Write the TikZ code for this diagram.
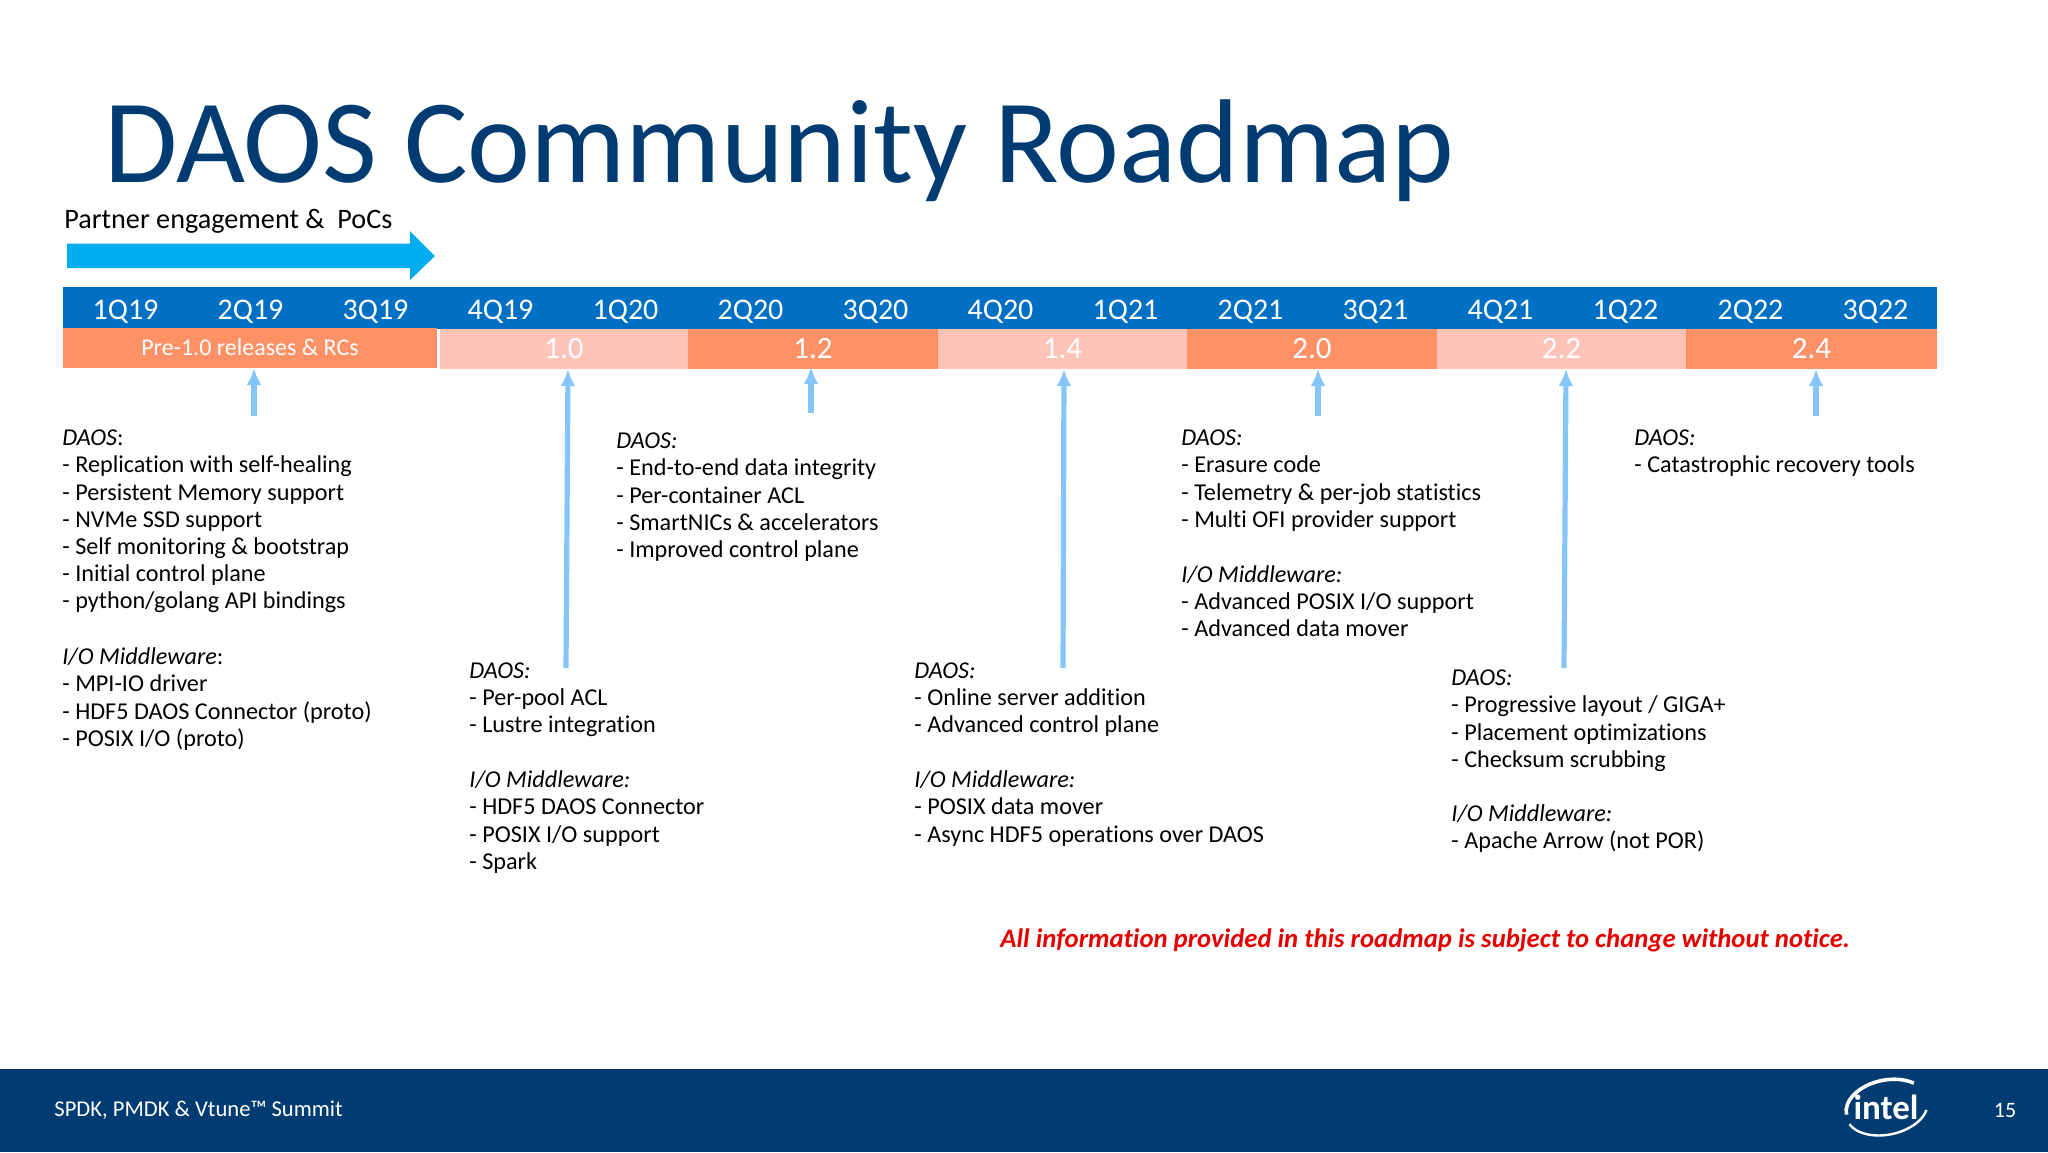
\documentclass[tikz,border=0pt]{standalone}
\usepackage{fontspec}
\setmainfont[Ligatures=NoCommon]{Carlito}
\usetikzlibrary{arrows.meta}
\definecolor{navy}{HTML}{003C71}
\definecolor{barblue}{HTML}{0070C5}
\definecolor{darkrel}{HTML}{FF9166}
\definecolor{lightrel}{HTML}{FFC3B8}
\definecolor{tickblue}{HTML}{85C5FA}
\definecolor{bigblue}{HTML}{00AEEF}
\tikzset{
  quarter/.style={text=white,font=\fontsize{15}{18}\selectfont},
  release/.style={minimum height=20pt,inner sep=0,text=white,font=\fontsize{15.5}{18}\selectfont},
  notes/.style={anchor=north west,inner sep=0,align=left,font=\fontsize{12.1}{13.6}\selectfont},
  tick/.style={draw=tickblue,line width=2.6pt,-{Latex[length=8.5pt,width=7.5pt]}},
}
\begin{document}
\begin{tikzpicture}[x=.5pt,y=-.5pt]
\useasboundingbox (0,0) rectangle (2048,1152);
% Title and partner arrow
\node[anchor=west,inner sep=0,text=navy,font=\fontsize{59.6}{62}\selectfont] (title) at (104,151) {DAOS Community Roadmap};
\node[anchor=west,inner sep=0,font=\fontsize{14.1}{16}\selectfont] (partner) at (64,221) {Partner engagement \&\ \ PoCs};
\fill[bigblue] (67,243.5) -- (410,243.5) -- (410,231) -- (435,256) -- (410,280) -- (410,268) -- (67,268) -- cycle;
% Quarters
\fill[barblue] (63,287) rectangle (1937,329);
\foreach \q [count=\i from 0] in {1Q19,2Q19,3Q19,4Q19,1Q20,2Q20,3Q20,4Q20,1Q21,2Q21,3Q21,4Q21,1Q22,2Q22,3Q22}
  \node[quarter] (q\i) at (125.5+\i*125,312) {\q};
% Releases
\node[release,fill=darkrel,minimum width=187pt] (pre) at (250,347.5) {\fontsize{12}{14}\selectfont Pre-1.0 releases \& RCs};
\node[release,fill=lightrel,minimum width=124pt] (v10) at (564,348.5) {1.0};
\node[release,fill=darkrel,minimum width=125pt] (v12) at (813,348.5) {1.2};
\node[release,fill=lightrel,minimum width=124.5pt] (v14) at (1062.5,348.5) {1.4};
\node[release,fill=darkrel,minimum width=125pt] (v20) at (1312,348.5) {2.0};
\node[release,fill=lightrel,minimum width=124.5pt] (v22) at (1561.5,348.5) {2.2};
\node[release,fill=darkrel,minimum width=125.5pt] (v24) at (1811.5,348.5) {2.4};
% Arrows up to the releases
\coordinate (apre) at (254,416);
\coordinate (a10) at (566,668);
\coordinate (a12) at (811,413);
\coordinate (a14) at (1063,668);
\coordinate (a20) at (1318,416);
\coordinate (a22) at (1564,668);
\coordinate (a24) at (1816,416);
\draw[tick] (apre) -- (254,368);
\draw[tick] (a10) -- (568,369);
\draw[tick] (a12) -- (811,367);
\draw[tick] (a14) -- (1064,369);
\draw[tick] (a20) -- (1318,369);
\draw[tick] (a22) -- (1566,369);
\draw[tick] (a24) -- (1816,369);
% Feature lists
\node[notes] (daospre) at (62,429.5) {\textit{DAOS}:\\- Replication with self-healing\\- Persistent Memory support\\- NVMe SSD support\\- Self monitoring \& bootstrap\\- Initial control plane\\- python/golang API bindings};
\node[notes] (iopre) at (62,647.5) {\textit{I/O Middleware}:\\- MPI-IO driver\\- HDF5 DAOS Connector (proto)\\- POSIX I/O (proto)};
\node[notes] (daos10) at (469,662) {\textit{DAOS:}\\- Per-pool ACL\\- Lustre integration};
\node[notes] (io10) at (469,770.5) {\textit{I/O Middleware:}\\- HDF5 DAOS Connector\\- POSIX I/O support\\- Spark};
\node[notes] (daos12) at (616,432.5) {\textit{DAOS:}\\- End-to-end data integrity\\- Per-container ACL\\- SmartNICs \& accelerators\\- Improved control plane};
\node[notes] (daos14) at (914,662) {\textit{DAOS:}\\- Online server addition\\- Advanced control plane};
\node[notes] (io14) at (914,770.5) {\textit{I/O Middleware:}\\- POSIX data mover\\- Async HDF5 operations over DAOS};
\node[notes] (daos20) at (1181,429.5) {\textit{DAOS:}\\- Erasure code\\- Telemetry \& per-job statistics\\- Multi OFI provider support};
\node[notes] (io20) at (1181,565) {\textit{I/O Middleware:}\\- Advanced POSIX I/O support\\- Advanced data mover};
\node[notes] (daos22) at (1451,669.5) {\textit{DAOS:}\\- Progressive layout / GIGA+\\- Placement optimizations\\- Checksum scrubbing};
\node[notes] (io22) at (1451,804.5) {\textit{I/O Middleware:}\\- Apache Arrow (not POR)};
\node[notes] (daos24) at (1634,429.5) {\textit{DAOS:}\\- Catastrophic recovery tools};
\node[anchor=west,inner sep=0,text=red!90!black,font=\fontsize{13.35}{15}\selectfont\bfseries\itshape] (notice) at (1000,940) {All information provided in this roadmap is subject to change without notice.};
% Footer
\fill[navy] (0,1069) rectangle (2048,1152);
\node[anchor=west,inner sep=0,text=white,font=\fontsize{11.3}{13}\selectfont] (summit) at (54,1110) {SPDK, PMDK \& Vtune™ Summit};
\node[inner sep=0,text=white,font=\fontsize{11}{13}\selectfont] (page) at (2005,1110) {15};
\node[inner sep=0,text=white,font=\fontsize{17.5}{18}\selectfont\bfseries] (intel) at (1886,1107) {intel};
\draw[white,line width=1.2pt,rotate around={12:(1887,1108)}] (1847,1116) arc[start angle=165, end angle=20, x radius=41, y radius=25];
\draw[white,line width=1.8pt,rotate around={12:(1887,1108)}] (1846,1106) arc[start angle=180, end angle=320, x radius=41, y radius=26];
\end{tikzpicture}
\end{document}
